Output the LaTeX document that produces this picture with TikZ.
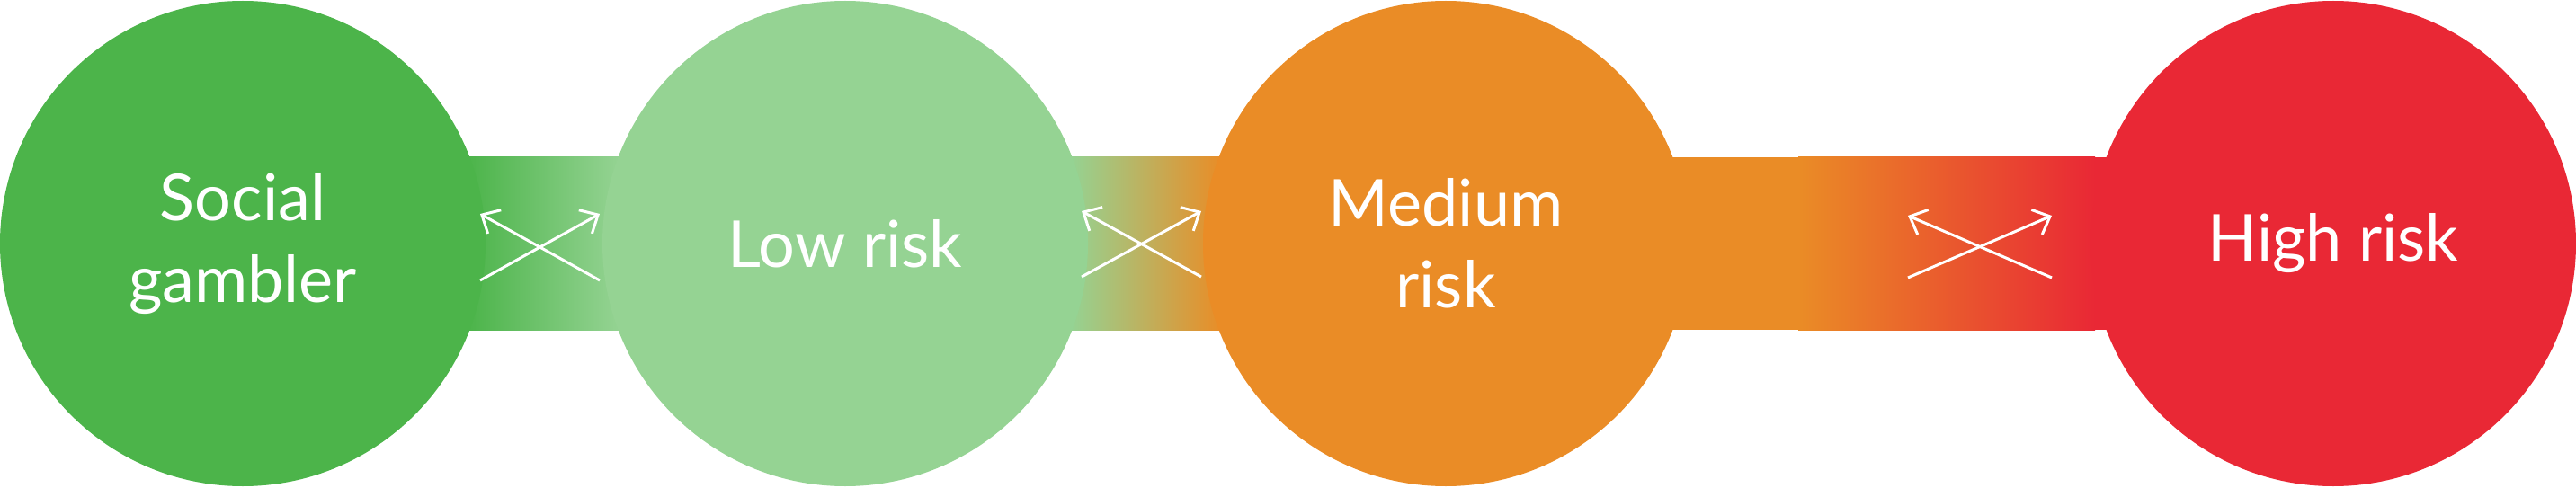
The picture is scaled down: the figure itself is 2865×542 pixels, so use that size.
\documentclass[tikz,border=0pt]{standalone}
\usepackage{fontspec}
\setmainfont{Lato}
\usetikzlibrary{arrows.meta}
\definecolor{gamblergreen}{HTML}{4CB44A}
\definecolor{lowgreen}{HTML}{95D393}
\definecolor{medorange}{HTML}{EA8C26}
\definecolor{highred}{HTML}{E92835}
\begin{document}
\begin{tikzpicture}[x=1pt,y=1pt,
		stage/.style={circle, minimum size=540pt, inner sep=0pt, text=white, align=center,
			font=\fontsize{72}{91}\selectfont},
		flow/.style={white, line width=3pt, -{Straight Barb[length=16pt,width=30pt]}},
	]
	\useasboundingbox (0,0) rectangle (2865,542);
	% bars behind the stages
	\shade[left color=gamblergreen, right color=lowgreen] (520,175) rectangle (690,367);
	\shade[left color=lowgreen, right color=medorange] (1190,175) rectangle (1360,367);
	\fill[medorange] (1860,175) rectangle (2000,367);
	\shade[left color=medorange, right color=highred] (2000,175) rectangle (2330,367);
	\fill[highred] (2330,175) rectangle (2400,367);

	\node[stage, fill=gamblergreen] (social) at (270,271) {Social\\gambler};
	\node[stage, fill=lowgreen] (low) at (940,271) {Low risk};
	\node[stage, fill=medorange] (medium) at (1608,271) {Medium\\risk};
	\node[stage, fill=highred] (high) at (2595,271) {High risk};

	% arrows between stages
	\coordinate (a1) at (534,304); \coordinate (b1) at (667,304);
	\coordinate (a2) at (1203,307); \coordinate (b2) at (1336,307);
	\coordinate (a3) at (2122,302); \coordinate (b3) at (2282,302);
	\coordinate (c1) at (534,230); \coordinate (d1) at (667,230);
	\coordinate (c2) at (1203,234); \coordinate (d2) at (1336,234);
	\coordinate (c3) at (2122,233); \coordinate (d3) at (2282,233);
	\foreach \i in {1,2,3}
	{ \draw[flow] (d\i) -- (a\i);
	  \draw[flow] (c\i) -- (b\i); }
\end{tikzpicture}
\end{document}
